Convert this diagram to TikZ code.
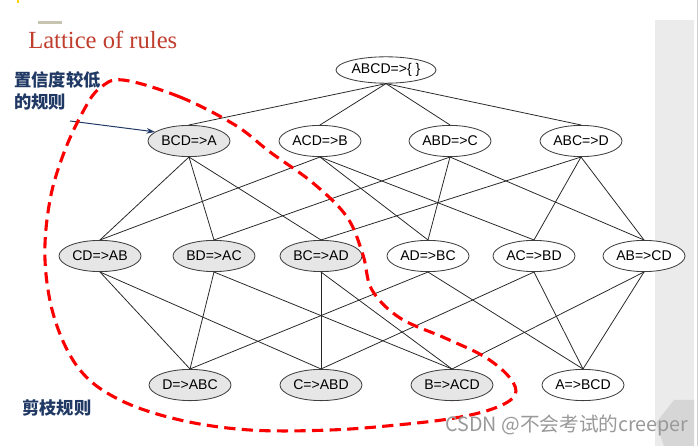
\documentclass[tikz,border=0pt]{standalone}
\usepackage{fontspec}
\setmainfont{Liberation Sans}
\newfontfamily\titlefont{Liberation Serif}
\newfontfamily\cjkfont{Noto Sans CJK SC}
\usetikzlibrary{shapes.geometric,arrows.meta}
\definecolor{titlered}{RGB}{192,62,46}
\definecolor{notenavy}{RGB}{31,56,100}
\definecolor{prunedgrey}{RGB}{230,230,230}
\definecolor{prunered}{RGB}{250,0,0}
\definecolor{barbeige}{RGB}{200,196,178}

\begin{document}
\begin{tikzpicture}[x=0.025cm, y=-0.025cm,
    rulenode/.style={ellipse, draw=black!75, line width=0.6pt, inner sep=0pt,
      minimum width=2.05cm, minimum height=0.78cm, font=\fontsize{10}{12}\selectfont},
    pruned/.style={rulenode, fill=prunedgrey},
    kept/.style={rulenode, fill=white},
    link/.style={draw=black!85, line width=0.55pt},
    note/.style={font=\cjkfont\bfseries\fontsize{12.3}{15.5}\selectfont, text=notenavy,
      align=left, inner sep=0pt}]

  \useasboundingbox (0,0) rectangle (700,446);
  \fill[white] (0,0) rectangle (700,446);
  % Slide margin on the right
  \fill[black!8] (655,20) rectangle (694,446);
  \fill[black!16] (674,400) -- (694,400) -- (694,446) -- (664,446) -- (656,423) -- cycle;
  \draw[black!18, line width=1pt] (697.5,0) -- (697.5,446);
  \draw[yellow!70!orange, line width=1pt] (18,0) -- (18,3);
  \fill[barbeige] (38,21) rectangle (62,24);

  % Title
  \node[anchor=base west, inner sep=0pt, text=titlered,
    font=\titlefont\fontsize{17.5}{20}\selectfont] (title) at (28,49) {Lattice of rules};

  % Rules, one row per size of the consequent
  \node[kept, minimum width=2.5cm, minimum height=0.66cm] (ABCD) at (386,70) {ABCD=>\{ \}};
  \node[pruned] (BCD) at (189,141) {BCD=>A};
  \node[kept]   (ACD) at (320,141) {ACD=>B};
  \node[kept]   (ABD) at (450,141) {ABD=>C};
  \node[kept]   (ABC) at (581,141) {ABC=>D};
  \node[pruned] (CD) at (100,256) {CD=>AB};
  \node[pruned] (BD) at (214,256) {BD=>AC};
  \node[pruned] (BC) at (321,256) {BC=>AD};
  \node[kept]   (AD) at (428,256) {AD=>BC};
  \node[kept]   (AC) at (534,256) {AC=>BD};
  \node[kept]   (AB) at (644,256) {AB=>CD};
  \node[pruned] (D) at (190,385) {D=>ABC};
  \node[pruned] (C) at (321,385) {C=>ABD};
  \node[pruned] (B) at (452,385) {B=>ACD};
  \node[kept]   (A) at (583,385) {A=>BCD};

  % Links: move one item to the right-hand side
  \foreach \p/\cs in {ABCD/{BCD,ACD,ABD,ABC}, BCD/{CD,BD,BC}, ACD/{CD,AD,AC},
      ABD/{BD,AD,AB}, ABC/{BC,AC,AB}, CD/{D,C}, BD/{D,B}, BC/{C,B},
      AD/{D,A}, AC/{C,A}, AB/{B,A}}
    \foreach \c in \cs
      \draw[link] (\p.south) -- (\c.north);

  % Notes
  \node[note, anchor=north west] (lowconf) at (14,71) {置信度较低\\的规则};
  \node[note, anchor=west] (prune) at (22,408) {剪枝规则};
  \coordinate (lowtail) at (70,121);
  \draw[notenavy, line width=0.7pt, -{Stealth[length=6pt,width=4pt]}]
    (lowtail) -- (BCD.165);

  % Pruned region
  \draw[prunered, line width=2.2pt, dash pattern=on 8pt off 4.5pt]
    plot[smooth cycle, tension=0.6] coordinates {
      (123,80) (180,97) (235,125) (270,152) (313,183) (347,217) (363,255)
      (372,290) (400,318) (445,338) (485,357) (510,378) (515,395) (495,408)
      (455,418) (397,425) (330,430) (250,430) (180,420) (120,400) (80,370)
      (55,320) (45,260) (50,200) (65,150) (85,108) (100,88)};

  % Watermark
  \node[text=black!40, font=\cjkfont\fontsize{14}{16}\selectfont, inner sep=0pt]
    (mark) at (567,425) {CSDN @不会考试的creeper};
\end{tikzpicture}
\end{document}
